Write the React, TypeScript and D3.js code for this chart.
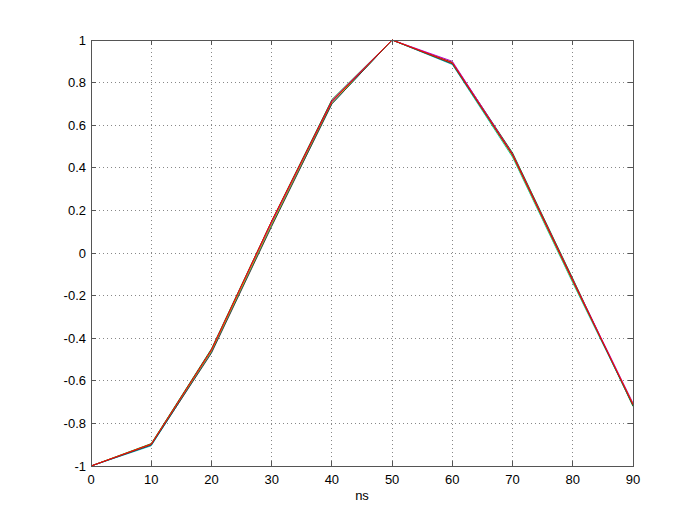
import { useEffect, useRef } from 'react';
import * as d3 from 'd3';

// time samples (ns)
const times = [0, 10, 20, 30, 40, 50, 60, 70, 80, 90];

// several nearly identical traces
const seriesA = [-1.0, -0.9, -0.46, 0.14, 0.71, 1.0, 0.89, 0.46, -0.13, -0.71];
const seriesB = [-1.0, -0.895, -0.45, 0.15, 0.72, 1.0, 0.895, 0.47, -0.12, -0.72];
const seriesC = [-1.0, -0.905, -0.465, 0.13, 0.70, 1.0, 0.885, 0.45, -0.14, -0.715];
const seriesD = [-1.0, -0.9, -0.455, 0.145, 0.715, 1.0, 0.9, 0.465, -0.125, -0.705];
const seriesE = [-1.0, -0.898, -0.46, 0.135, 0.705, 1.0, 0.89, 0.455, -0.135, -0.71];
const seriesF = [-1.0, -0.902, -0.47, 0.125, 0.70, 1.0, 0.888, 0.46, -0.13, -0.715];
const seriesG = [-1.0, -0.897, -0.455, 0.15, 0.712, 1.0, 0.893, 0.462, -0.128, -0.712];

const allSeries = [seriesA, seriesB, seriesC, seriesD, seriesE, seriesF, seriesG];
const seriesColors = ['#0000ff', '#008000', '#00bfbf', '#bf00bf', '#bfbf00', '#404040', '#ff0000'];

const xTicks = [0, 10, 20, 30, 40, 50, 60, 70, 80, 90];
const yTicks = [-1, -0.8, -0.6, -0.4, -0.2, 0, 0.2, 0.4, 0.6, 0.8, 1];

export default function App() {
  const ref = useRef<SVGSVGElement>(null);

  useEffect(() => {
    document.body.style.margin = '0';
    if (!ref.current) return;
    const svg = d3.select(ref.current);
    svg.selectAll('*').remove();

    const left = 91, right = 633, top = 40, bottom = 466;
    const x = d3.scaleLinear().domain([0, 90]).range([left, right]);
    const y = d3.scaleLinear().domain([-1, 1]).range([bottom, top]);
    const font = 'Liberation Sans, Arial, Helvetica, sans-serif';

    svg.append('rect').attr('width', 700).attr('height', 525).attr('fill', '#fff');

    // grid
    const grid = svg.append('g')
      .attr('stroke', '#888')
      .attr('stroke-width', 1)
      .attr('stroke-dasharray', '1,3')
      .attr('shape-rendering', 'crispEdges');
    xTicks.slice(1, -1).forEach((t) => {
      grid.append('line').attr('x1', x(t)).attr('x2', x(t)).attr('y1', top).attr('y2', bottom);
    });
    yTicks.slice(1, -1).forEach((t) => {
      grid.append('line').attr('x1', left).attr('x2', right).attr('y1', y(t)).attr('y2', y(t));
    });

    // data lines
    const line = d3.line<number>()
      .x((_, i) => x(times[i]))
      .y((d) => y(d));
    allSeries.forEach((s, i) => {
      svg.append('path')
        .datum(s)
        .attr('fill', 'none')
        .attr('stroke', seriesColors[i])
        .attr('stroke-width', 1)
        .attr('d', line);
    });

    // box and ticks
    const axes = svg.append('g')
      .attr('stroke', '#555')
      .attr('stroke-width', 1)
      .attr('shape-rendering', 'crispEdges');
    axes.append('rect')
      .attr('x', left).attr('y', top)
      .attr('width', right - left).attr('height', bottom - top)
      .attr('fill', 'none');
    const tl = 5;
    xTicks.forEach((t) => {
      axes.append('line').attr('x1', x(t)).attr('x2', x(t)).attr('y1', bottom).attr('y2', bottom - tl);
      axes.append('line').attr('x1', x(t)).attr('x2', x(t)).attr('y1', top).attr('y2', top + tl);
    });
    yTicks.forEach((t) => {
      axes.append('line').attr('x1', left).attr('x2', left + tl).attr('y1', y(t)).attr('y2', y(t));
      axes.append('line').attr('x1', right).attr('x2', right - tl).attr('y1', y(t)).attr('y2', y(t));
    });

    // tick labels
    xTicks.forEach((t) => {
      svg.append('text')
        .attr('x', x(t)).attr('y', bottom + 18)
        .attr('text-anchor', 'middle')
        .attr('font-family', font).attr('font-size', 13)
        .text(d3.format('d')(t));
    });
    yTicks.forEach((t) => {
      svg.append('text')
        .attr('x', left - 5).attr('y', y(t) + 4.5)
        .attr('text-anchor', 'end')
        .attr('font-family', font).attr('font-size', 13)
        .text(t === 0 ? '0' : String(t));
    });

    svg.append('text')
      .attr('x', (left + right) / 2).attr('y', bottom + 34)
      .attr('text-anchor', 'middle')
      .attr('font-family', font).attr('font-size', 13)
      .text('ns');
  }, []);

  return <svg ref={ref} width={700} height={525} style={{ display: 'block' }} />;
}
